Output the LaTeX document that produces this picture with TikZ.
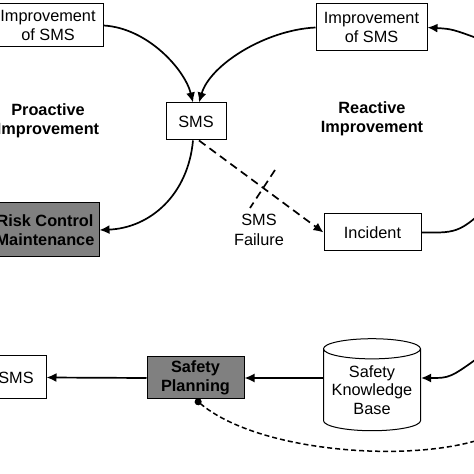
\documentclass[tikz,border=0pt]{standalone}
\usepackage{fontspec}
\setmainfont{Liberation Sans}
\usetikzlibrary{arrows.meta,shapes.geometric}

\begin{document}
\begin{tikzpicture}[x=1pt,y=1pt]
    \tikzset{every node/.style={font=\fontsize{16.3}{19.5}\selectfont},
      box/.style={draw,line width=1pt,align=center,inner sep=0pt},
      shaded/.style={box,fill=black!50,font=\bfseries\fontsize{16.3}{19.5}\selectfont},
      heading/.style={align=center,font=\bfseries\fontsize{16.3}{19.5}\selectfont},
      link/.style={line width=1.7pt,-{Latex[length=10pt,width=9pt]}}}
\clip (0,0) rectangle (474,474);
\node[box,minimum width=110,minimum height=43] (impL) at (48,448.5) {Improvement\\of SMS};
\node[box,minimum width=111,minimum height=47] (impR) at (371.5,446.5) {Improvement\\of SMS};
\node[box,minimum width=60,minimum height=37] (sms) at (196,352.5) {SMS};
\node[heading] (pro) at (48,353) {Proactive\\Improvement};
\node[heading] (rea) at (372,355) {Reactive\\Improvement};
\node[shaded,minimum width=108,minimum height=54] (rcm) at (45,244) {Risk Control\\Maintenance};
\node[align=center] (fail) at (259,244) {SMS\\Failure};
\node[box,minimum width=97,minimum height=37] (inc) at (372.5,241.5) {Incident};
\node[box,minimum width=60,minimum height=43] (smsB) at (16,96.5) {SMS};
\node[shaded,minimum width=97,minimum height=42] (plan) at (195.5,96) {Safety\\Planning};
\node[box,cylinder,shape border rotate=90,aspect=0.25,minimum width=97,minimum height=92,
  font=\fontsize{16.3}{18.5}\selectfont] (kb) at (372,84) {Safety\\Knowledge\\Base};
\coordinate (inR) at (482,434);
\coordinate (outInc) at (500,279);
\coordinate (inKB) at (482,119);
\coordinate (xa) at (275,304);
\coordinate (xb) at (250,266);
\coordinate (outPlan) at (490,38);

\draw[link] (impL.east) .. controls (148,446) and (185,404) .. ([xshift=-3]sms.north);
\draw[link] (impR.west) .. controls (265,444) and (210,409) .. ([xshift=3]sms.north);
\draw[link] (inR) .. controls (452,445) .. (impR.east);
\draw[link] ([xshift=-3]sms.south) .. controls (188,279) and (150,246) .. (rcm.east);
\draw[link,dash pattern=on 8pt off 5pt] ([xshift=3]sms.south) -- (inc.west);
\draw[line width=1.7pt,dash pattern=on 8pt off 5pt] (xa) -- (xb);
\draw[line width=1.7pt] (inc.east) .. controls (460,241) .. (outInc);
\draw[link] (kb.west |- plan.east) -- (plan.east);
\draw[link] (plan.west) -- (smsB.east);
\draw[link] (inKB) .. controls (450,96) .. (kb.east |- plan.east);
\draw[line width=1.5pt,dash pattern=on 5pt off 3pt,{Circle[length=7pt]}-] (plan.south) .. controls (260,20) and (420,10) .. (outPlan);
\end{tikzpicture}
\end{document}
